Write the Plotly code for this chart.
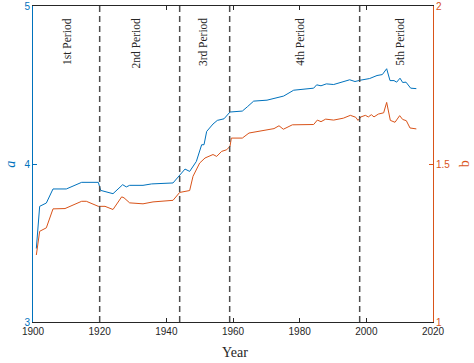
import plotly.graph_objects as go

# Series a (left axis)
year_a = [1901, 1902, 1904, 1906, 1910, 1914.6, 1919.6, 1920.3, 1924, 1926.9, 1928, 1929, 1933,
          1935.6, 1942, 1944, 1945.6, 1947, 1949, 1950.6, 1951.3, 1952.1, 1954, 1955.3, 1957.3,
          1959.1, 1962.8, 1964.3, 1966.2, 1970.2, 1973.2, 1975.2, 1978.2, 1981.2, 1984.2, 1985.1,
          1986.4, 1988, 1990.2, 1995, 1996.6, 1998.1, 2001, 2003.2, 2004.8, 2006.1, 2007.1, 2008.3,
          2009.1, 2010.1, 2010.9, 2011.9, 2013.3, 2015]
a_vals = [3.465, 3.732, 3.753, 3.842, 3.842, 3.884, 3.884, 3.833, 3.812, 3.869, 3.855, 3.865, 3.865,
          3.874, 3.880, 3.928, 3.968, 3.953, 4.016, 4.122, 4.122, 4.206, 4.253, 4.276, 4.286,
          4.329, 4.335, 4.362, 4.398, 4.404, 4.422, 4.430, 4.467, 4.474, 4.480, 4.501,
          4.495, 4.507, 4.503, 4.533, 4.522, 4.530, 4.541, 4.560, 4.566, 4.603, 4.528, 4.528,
          4.518, 4.543, 4.516, 4.518, 4.480, 4.477]

# Series b (right axis)
year_b = [1901, 1902, 1904, 1906, 1909.6, 1914.6, 1916, 1919.6, 1921.6, 1924, 1926.6, 1927.3, 1929,
          1933, 1936, 1942, 1944, 1947, 1948, 1949, 1950, 1951.6, 1954, 1955.1, 1956.6, 1958.1, 1959.1,
          1959.5, 1962.8, 1964.8, 1966.3, 1969.3, 1972.3, 1973.8, 1975.1, 1977.8, 1984.2, 1985.3,
          1986.4, 1987.8, 1990.2, 1993.1, 1995.2, 1996.8, 1997.5, 1998.4, 1999.7, 2000.6, 2001.5,
          2002.3, 2003.6, 2005.2, 2006.1, 2007.2, 2008.6, 2010, 2010.9, 2012, 2013.1, 2015]
b_vals = [1.212, 1.287, 1.298, 1.358, 1.359, 1.382, 1.382, 1.366, 1.366, 1.356, 1.396, 1.393, 1.377,
          1.374, 1.380, 1.385, 1.410, 1.416, 1.461, 1.480, 1.503, 1.519, 1.530, 1.524, 1.540, 1.545, 1.556,
          1.582, 1.582, 1.598, 1.601, 1.605, 1.612, 1.621, 1.610, 1.624, 1.625, 1.639,
          1.634, 1.642, 1.639, 1.645, 1.654, 1.648, 1.638, 1.649, 1.654, 1.649, 1.656,
          1.649, 1.658, 1.662, 1.695, 1.638, 1.632, 1.653, 1.641, 1.637, 1.614, 1.611]

period_breaks = [1920, 1944, 1959, 1998]
period_labels = ["1st Period", "2nd Period", "3rd Period", "4th Period", "5th Period"]
period_label_x = [1910, 1931, 1951, 1980, 2010]

x_ticks = [1900, 1920, 1940, 1960, 1980, 2000, 2020]
a_ticks = [3, 4, 5]
b_ticks = [1, 1.5, 2]

BLUE = "#0072BD"
ORANGE = "#D95319"
AXIS = "#262626"

fig = go.Figure()
fig.add_trace(go.Scatter(x=year_a, y=a_vals, mode="lines", line=dict(color=BLUE, width=1),
                         yaxis="y", showlegend=False))
fig.add_trace(go.Scatter(x=year_b, y=b_vals, mode="lines", line=dict(color=ORANGE, width=1),
                         yaxis="y2", showlegend=False))

for xb in period_breaks:
    fig.add_shape(type="line", x0=xb, x1=xb, y0=0, y1=1, xref="x", yref="paper",
                  line=dict(color="#4d4d4d", width=1.5, dash="6px,4px"))

annotations = []
for lbl, xl in zip(period_labels, period_label_x):
    annotations.append(dict(x=xl, y=0.968, xref="x", yref="paper", text=lbl, textangle=-90,
                            showarrow=False, xanchor="center", yanchor="top",
                            font=dict(family="Liberation Serif", size=11.5, color=AXIS)))
annotations.append(dict(x=-0.058, y=0.5, xref="paper", yref="paper", text="<i>a</i>", textangle=-90,
                        showarrow=False, xanchor="center", yanchor="middle",
                        font=dict(family="Liberation Serif", size=14, color=BLUE)))
annotations.append(dict(x=1.078, y=0.5, xref="paper", yref="paper", text="b", textangle=-90,
                        showarrow=False, xanchor="center", yanchor="middle",
                        font=dict(family="Liberation Serif", size=14, color=ORANGE)))
annotations.append(dict(x=0.505, y=-0.098, xref="paper", yref="paper", text="Year",
                        showarrow=False, xanchor="center", yanchor="middle",
                        font=dict(family="Liberation Serif", size=14, color=AXIS)))

fig.update_layout(
    width=474, height=363,
    margin=dict(l=33, r=41, t=6, b=41, autoexpand=False),
    paper_bgcolor="white", plot_bgcolor="white",
    font=dict(family="Liberation Sans", size=10, color=AXIS),
    annotations=annotations,
    xaxis=dict(range=[1900, 2020], tickvals=x_ticks, ticks="inside", ticklen=4, tickcolor=AXIS,
               showline=True, linecolor=AXIS, linewidth=1, mirror="ticks", showgrid=False,
               zeroline=False, automargin=False, tickfont=dict(size=10, color=AXIS)),
    yaxis=dict(range=[3, 5], tickvals=a_ticks, ticks="inside", ticklen=4, tickcolor=BLUE,
               showline=True, linecolor=BLUE, linewidth=1, showgrid=False, zeroline=False,
               automargin=False, tickfont=dict(size=10, color=BLUE)),
    yaxis2=dict(range=[1, 2], tickvals=b_ticks, ticks="inside", ticklen=4, tickcolor=ORANGE,
                showline=True, linecolor=ORANGE, linewidth=1, showgrid=False, zeroline=False,
                automargin=False, overlaying="y", side="right", tickfont=dict(size=10, color=ORANGE)),
)

fig.write_html("out.html", config={"displayModeBar": False},
               post_script="document.body.style.margin='0';document.body.style.padding='0';")
